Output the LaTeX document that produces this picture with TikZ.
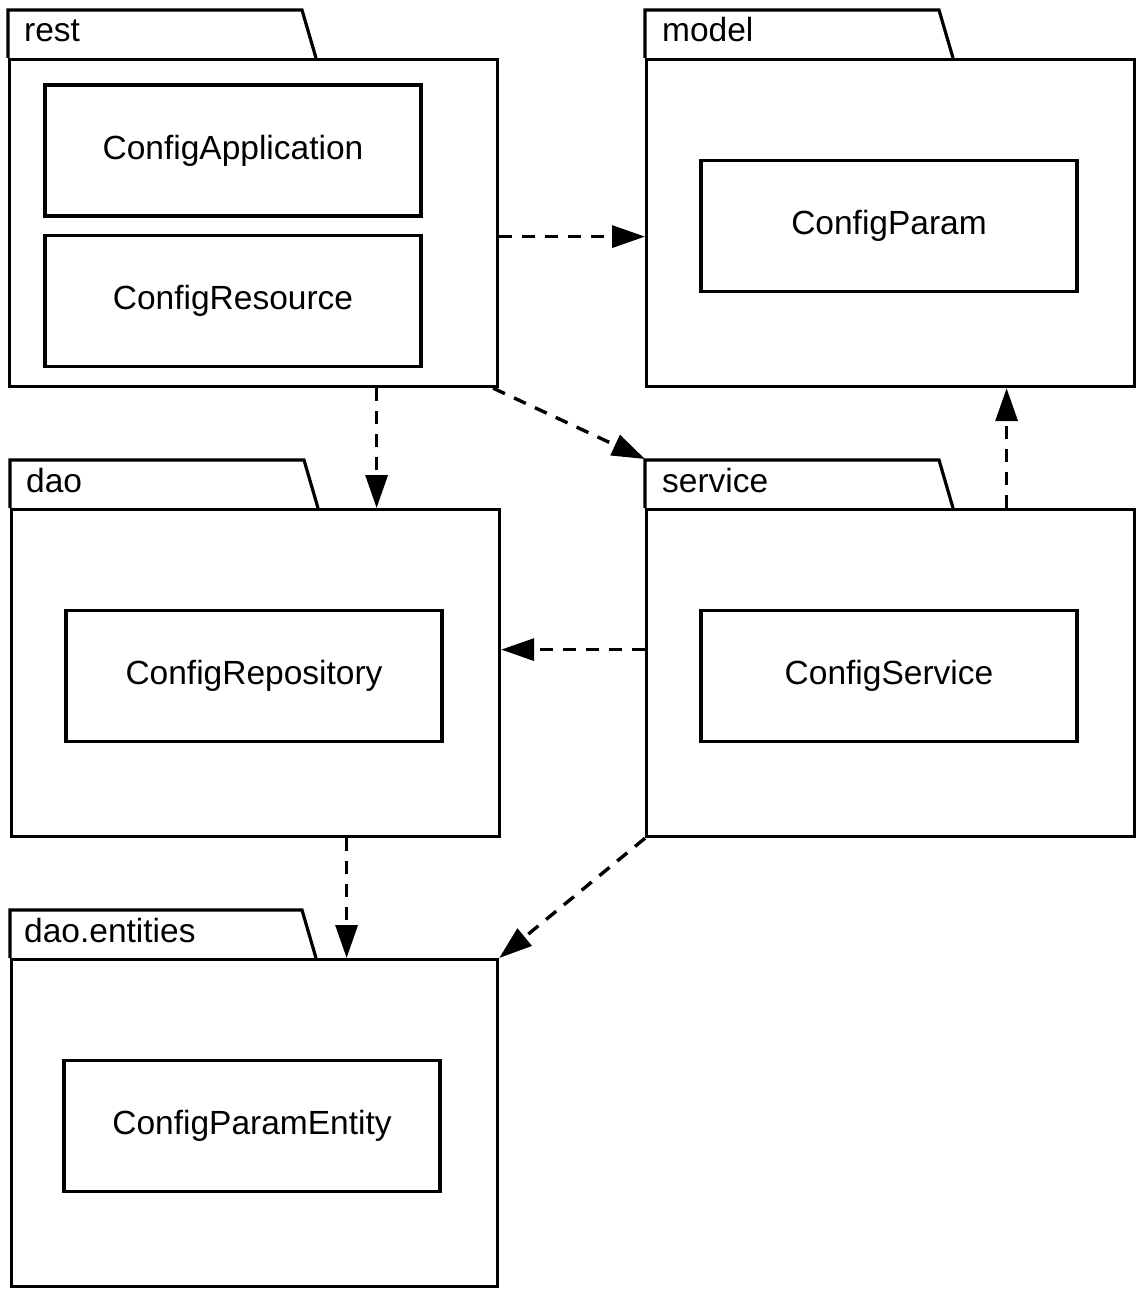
\documentclass[tikz,border=0pt]{standalone}
\usepackage{fontspec}
\setmainfont{Liberation Sans}
\usetikzlibrary{arrows.meta}
\begin{document}
\begin{tikzpicture}
		    [%%%%%%%%%%%%%%%%%%%%%%%%%%%%%%
		        x=1pt, y=-1pt,
		        pkg/.style={rectangle,draw=black,line width=3.2pt,inner sep=0pt,anchor=north west,
		                    minimum width=488pt, minimum height=327pt},
		        tab/.style={draw=black,line width=3.2pt,line join=miter},
		        cls/.style={rectangle,draw=black,line width=3.2pt, minimum width=376pt, minimum height=131pt,
		                    font=\fontsize{33.5}{40}\selectfont},
		        lbl/.style={anchor=base west,inner sep=0pt,font=\fontsize{33.5}{40}\selectfont},
		        dep/.style={line width=3.4pt,dash pattern=on 13pt off 10pt,-{Triangle[length=33pt,width=22pt]}},
		    ]%%%%%%%%%%%%%%%%%%%%%%%%%%%%%%
		\useasboundingbox (0,0) rectangle (1144,1295);

		% packages
		\node[pkg] (restpkg) at (8,58) {};
		\draw[tab] (restpkg.north west) -- ++(0,-48) -- ++(294,0) -- ++(14,48);
		\node[lbl] (restlbl) at (24,42) {rest};

		\node[pkg] (modelpkg) at (645,58) {};
		\draw[tab] (modelpkg.north west) -- ++(0,-48) -- ++(294,0) -- ++(14,48);
		\node[lbl] (modellbl) at (662,42) {model};

		\node[pkg] (daopkg) at (10,508) {};
		\draw[tab] (daopkg.north west) -- ++(0,-48) -- ++(294,0) -- ++(14,48);
		\node[lbl] (daolbl) at (26,492) {dao};

		\node[pkg] (servicepkg) at (645,508) {};
		\draw[tab] (servicepkg.north west) -- ++(0,-48) -- ++(294,0) -- ++(14,48);
		\node[lbl] (servicelbl) at (662,492) {service};
		\coordinate (servicetab) at ([yshift=49pt]servicepkg.north west);

		\node[pkg, minimum width=486pt] (entitiespkg) at (10,958) {};
		\draw[tab] (entitiespkg.north west) -- ++(0,-48) -- ++(292,0) -- ++(14,48);
		\node[lbl] (entitieslbl) at (24,942) {dao.entities};

		% classes
		\node[cls] (app) at (233,150.5) {ConfigApplication};
		\node[cls] (res) at (233,301) {ConfigResource};
		\node[cls] (param) at (889,226) {ConfigParam};
		\node[cls] (repo) at (254,676) {ConfigRepository};
		\node[cls] (serv) at (889,676) {ConfigService};
		\node[cls] (entity) at (252,1126) {ConfigParamEntity};

		% dependencies
		\draw[dep] ([yshift=-13.5pt]restpkg.east) -- ([yshift=-13.5pt]modelpkg.west);
		\draw[dep] ([xshift=123pt]restpkg.south) -- ([xshift=123pt]restpkg.south |- daopkg.north);
		\draw[dep] ([xshift=-6pt]restpkg.south east) -- (servicetab);
		\draw[dep] ([yshift=23.5pt]servicepkg.west) -- ([yshift=23.5pt]servicepkg.west -| daopkg.east);
		\draw[dep] ([xshift=116pt]servicepkg.north) -- ([xshift=116pt]modelpkg.south);
		\draw[dep] ([xshift=91pt]daopkg.south) -- ([xshift=91pt]daopkg.south |- entitiespkg.north);
		\draw[dep] (servicepkg.south west) -- (entitiespkg.north east);

		\end{tikzpicture}
\end{document}
